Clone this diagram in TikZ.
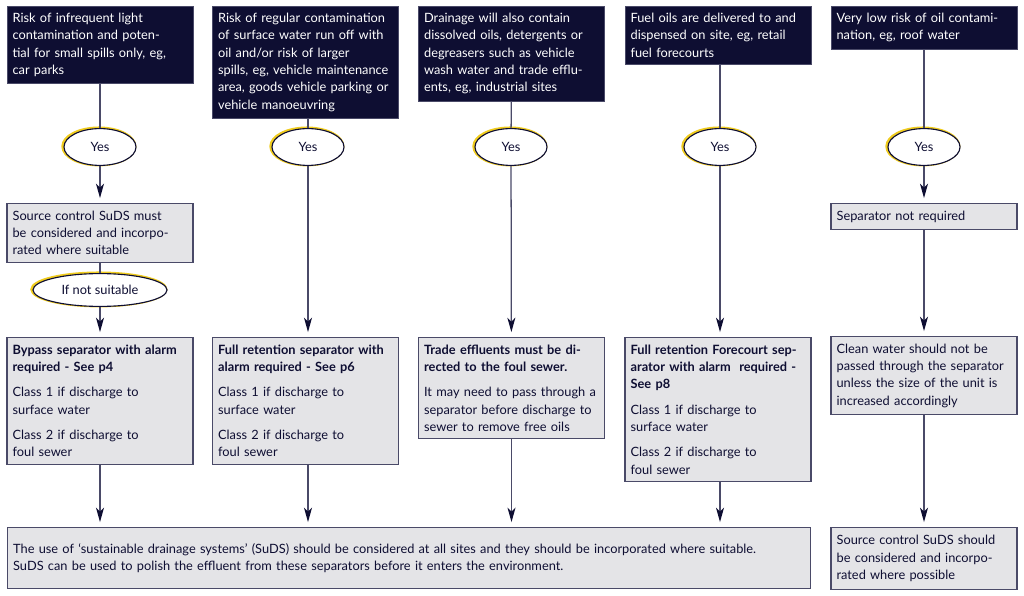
\documentclass[tikz,border=0pt]{standalone}
\usepackage{fontspec}
\setmainfont{Lato}
\usetikzlibrary{arrows.meta,positioning,calc,shapes.geometric}
\definecolor{Navy}{HTML}{0E0E32}
\definecolor{Rule}{HTML}{4A4A68}
\definecolor{Panel}{HTML}{E4E4E7}
\definecolor{Gold}{HTML}{F0CC1E}

\newcommand{\gap}{\\[0.2cm]}

\begin{document}
\begin{tikzpicture}[x=0.025cm,y=-0.025cm,
  txt/.style={font=\fontsize{9.1}{12.3}\selectfont},
  riskbox/.style={txt,draw=Rule,fill=Navy,text=white,line width=0.6pt,
    text width=4.37cm,align=left,inner xsep=0.14cm,inner ysep=0.17cm,anchor=north},
  stepbox/.style={txt,draw=Rule,fill=Panel,text=Navy,line width=0.8pt,
    text width=4.37cm,align=left,inner xsep=0.14cm,inner ysep=0.18cm,anchor=north},
  answer/.style={txt,ellipse,draw=Navy,fill=white,text=Navy,line width=0.8pt,inner sep=0pt,
    preaction={draw=Gold,line width=2.2pt,transform canvas={shift={(-0.8pt,0.4pt)}}}},
  flow/.style={draw=Rule,line width=0.9pt},
  flowarrow/.style={flow,-{Stealth[length=0.36cm,width=0.2cm,inset=0.1cm,color=Navy]},shorten >=3.5pt}]
\useasboundingbox (0,0) rectangle (1024,596);

% first row: where the water comes from
\node[riskbox] (top1) at (100,6) {Risk of infrequent light\\contamination and poten-\\tial for small spills only, eg,\\car parks};
\node[riskbox] (top2) at (305.5,6) {Risk of regular contamination\\of surface water run off with\\oil and/or risk of larger\\spills, eg, vehicle maintenance\\area, goods vehicle parking or\\vehicle manoeuvring};
\node[riskbox] (top3) at (511.5,6) {Drainage will also contain\\dissolved oils, detergents or\\degreasers such as vehicle\\wash water and trade efflu-\\ents, eg, industrial sites};
\node[riskbox] (top4) at (718,6) {Fuel oils are delivered to and\\dispensed on site, eg, retail\\fuel forecourts};
\node[riskbox] (top5) at (924,6) {Very low risk of oil contami-\\nation, eg, roof water};

% answers
\node[answer,minimum width=1.8cm,minimum height=0.92cm] (yes1) at (100,147) {Yes};
\node[answer,minimum width=1.8cm,minimum height=0.92cm] (yes2) at (308,147) {Yes};
\node[answer,minimum width=1.8cm,minimum height=0.92cm] (yes3) at (511,147) {Yes};
\node[answer,minimum width=1.8cm,minimum height=0.92cm] (yes4) at (720,147) {Yes};
\node[answer,minimum width=1.8cm,minimum height=0.92cm] (yes5) at (924,147) {Yes};

\node[stepbox] (src1) at (100,203) {Source control SuDS must\\be considered and incorpo-\\rated where suitable};
\node[answer,minimum width=3.35cm,minimum height=0.82cm] (ifnot) at (100,290) {If not suitable};
\node[stepbox] (sep5) at (924,203) {Separator not required};

% second row: what is required
\node[stepbox] (bypass) at (100,337) {\textbf{Bypass separator with alarm}\\\textbf{required - See p4}\gap Class 1 if discharge to\\surface water\gap Class 2 if discharge to\\foul sewer};
\node[stepbox] (full2) at (305.5,337) {\textbf{Full retention separator with}\\\textbf{alarm required - See p6}\gap Class 1 if discharge to\\surface water\gap Class 2 if discharge to\\foul sewer};
\node[stepbox] (trade) at (511.5,337) {\textbf{Trade effluents must be di-}\\\textbf{rected to the foul sewer.}\gap It may need to pass through a\\separator before discharge to\\sewer to remove free oils};
\node[stepbox] (fore) at (718,337) {\textbf{Full retention Forecourt sep-}\\\textbf{arator with alarm\ \ required -}\\\textbf{See p8}\gap Class 1 if discharge to\\surface water\gap Class 2 if discharge to\\foul sewer};
\node[stepbox] (clean) at (924,336) {Clean water should not be\\passed through the separator\\unless the size of the unit is\\increased accordingly};

% bottom row
\node[stepbox,anchor=north west,text width=19.795cm,minimum height=1.525cm] (suds) at (7,527) {The use of `sustainable drainage systems' (SuDS) should be considered at all sites and they should be incorporated where suitable.\\SuDS can be used to polish the effluent from these separators before it enters the environment.};
\node[stepbox,minimum height=1.55cm] (suds5) at (924,527) {Source control SuDS should\\be considered and incorpo-\\rated where possible};

% connectors
\draw[flow] (top1) -- (yes1);
\draw[flow] (yes2 |- top2.south) -- (yes2);
\draw[flow] (top3) -- (yes3);
\draw[flow] (yes4 |- top4.south) -- (yes4);
\draw[flow] (top5) -- (yes5);
\draw[flowarrow] (yes1) -- (src1);
\draw[flow] (src1) -- (ifnot);
\draw[flowarrow] (ifnot) -- (bypass);
\draw[flowarrow] (yes2) -- (yes2 |- full2.north);
\draw[flowarrow] (yes3) -- (trade);
\draw[flowarrow] (yes4) -- (yes4 |- fore.north);
\draw[flowarrow] (yes5) -- (sep5);
\draw[flowarrow] (sep5) -- (clean);
\draw[flowarrow] (bypass) -- (bypass |- suds.north);
\draw[flowarrow] (yes2 |- full2.south) -- (yes2 |- suds.north);
\draw[flowarrow] (trade) -- (trade |- suds.north);
\draw[flowarrow] (yes4 |- fore.south) -- (yes4 |- suds.north);
\draw[flowarrow] (clean) -- (suds5);
\end{tikzpicture}
\end{document}
